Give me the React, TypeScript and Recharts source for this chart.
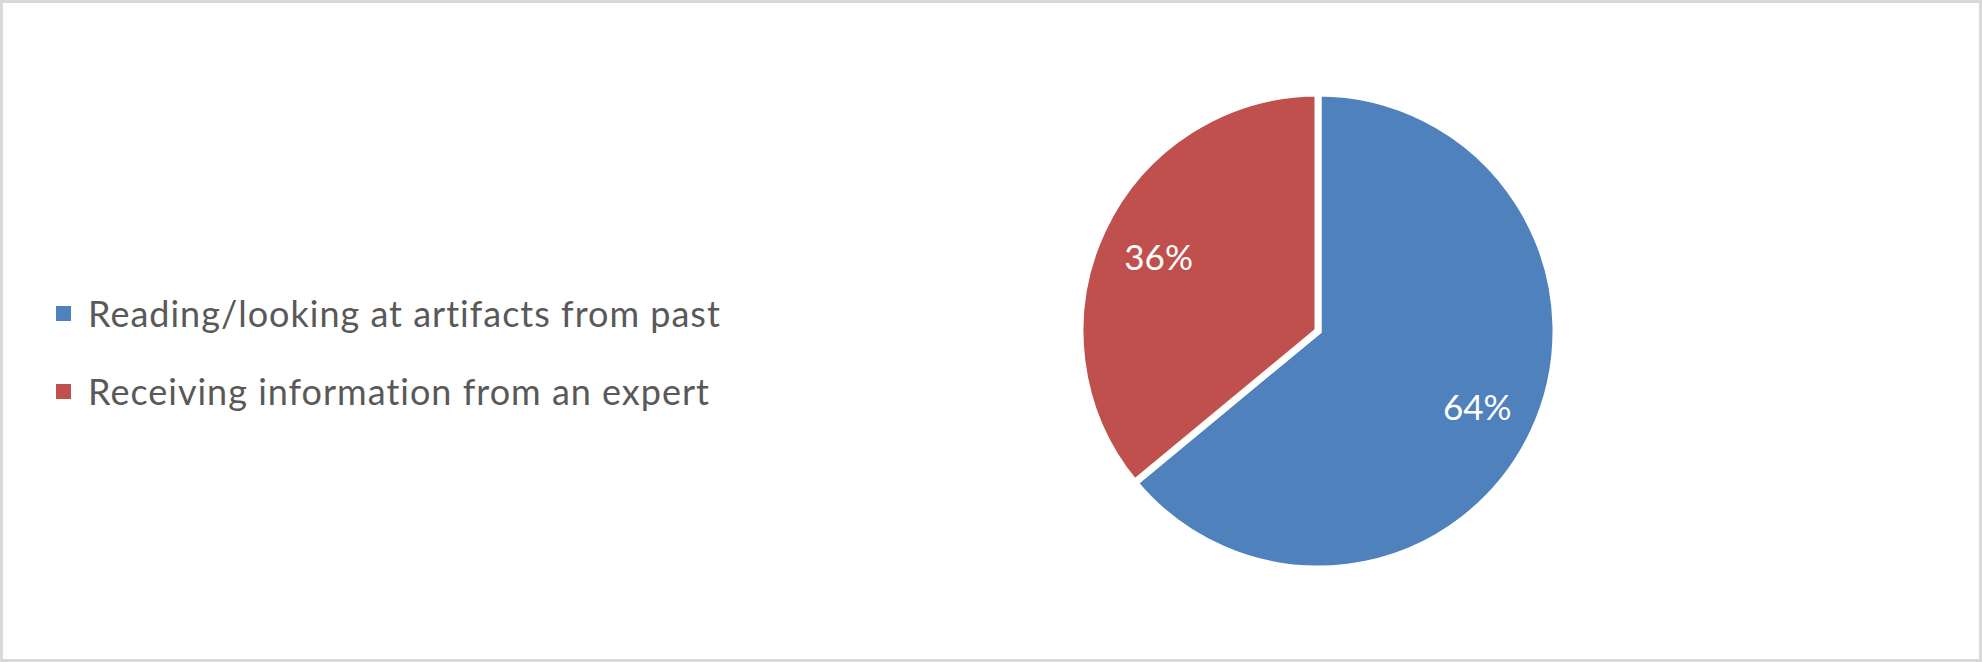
import { PieChart, Pie, Cell } from "recharts";

const categories = ["Reading/looking at artifacts from past", "Receiving information from an expert"];
const shares = [64, 36];
const colors = ["#4F81BD", "#C0504D"];

const data = categories.map((name, i) => ({ name, value: shares[i] }));

const FONT = "Lato, 'Open Sans', sans-serif";
const RAD = Math.PI / 180;

function renderLabel(props: any) {
  const { cx, cy, midAngle, outerRadius, percent } = props;
  const r = outerRadius * 0.74;
  const x = cx + r * Math.cos(-midAngle * RAD);
  const y = cy + r * Math.sin(-midAngle * RAD);
  return (
    <text x={x} y={y} fill="#ffffff" textAnchor="middle" dominantBaseline="central"
      fontFamily={FONT} fontSize={35}>
      {`${Math.round(percent * 100)}%`}
    </text>
  );
}

export default function App() {
  return (
    <>
      <style>{`body{margin:0}`}</style>
      <div style={{ width: 1982, height: 662, boxSizing: "border-box", border: "3px solid #d9d9d9", background: "#fff", position: "relative" }}>
        <PieChart width={1976} height={656} margin={{ top: 0, right: 0, bottom: 0, left: 0 }} style={{ position: "absolute", left: 0, top: 0 }}>
          <Pie
            data={data}
            dataKey="value"
            nameKey="name"
            cx={1315}
            cy={328}
            outerRadius={238}
            startAngle={90}
            endAngle={-270}
            stroke="#ffffff"
            strokeWidth={7}
            label={renderLabel}
            labelLine={false}
            isAnimationActive={false}
          >
            {data.map((d, i) => (
              <Cell key={d.name} fill={colors[i]} />
            ))}
          </Pie>
        </PieChart>
        <ul style={{ position: "absolute", left: 53, top: 271, listStyle: "none", margin: 0, padding: 0 }}>
          {data.map((d, i) => (
            <li key={d.name} style={{ display: "flex", alignItems: "center", height: 78 }}>
              <span style={{ width: 15, height: 15, background: colors[i], display: "inline-block", marginRight: 17 }} />
              <span style={{ fontFamily: FONT, fontSize: 36, letterSpacing: 1, color: "#595959", whiteSpace: "nowrap" }}>{d.name}</span>
            </li>
          ))}
        </ul>
      </div>
    </>
  );
}
